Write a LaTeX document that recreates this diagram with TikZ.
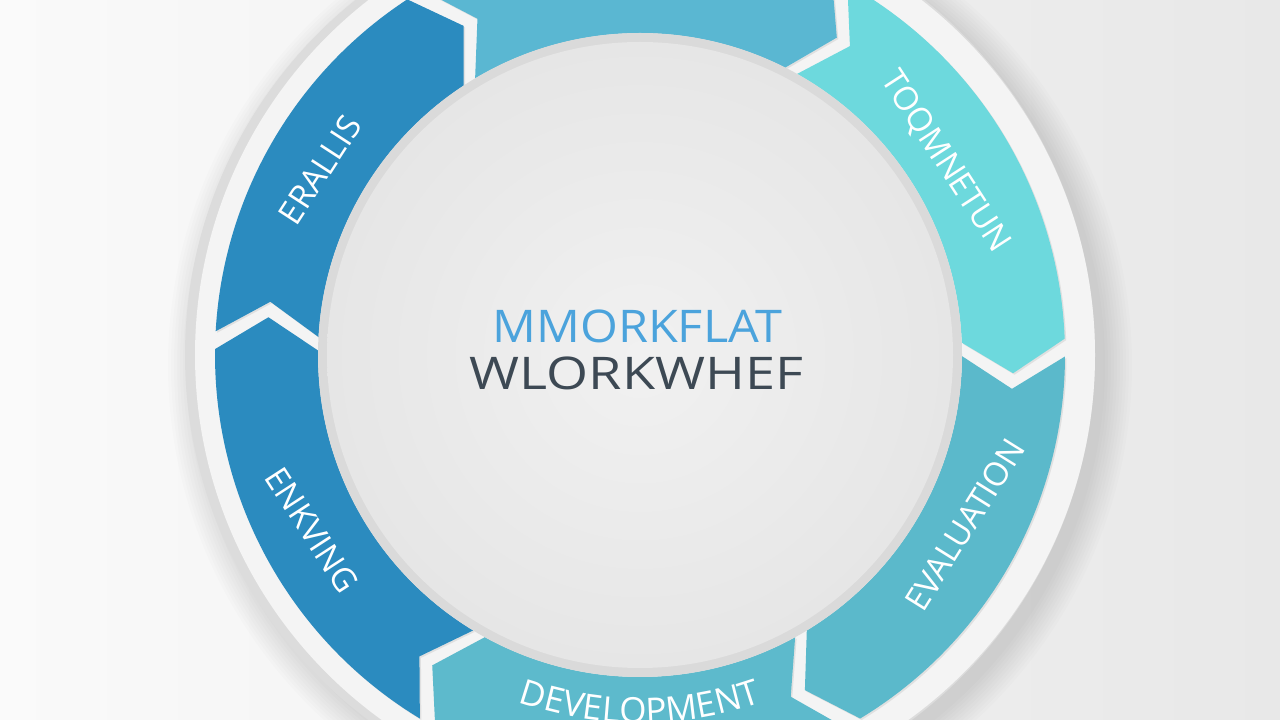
\documentclass[tikz,border=0pt]{standalone}
\usepackage{fontspec}
\setmainfont{Open Sans}
\usetikzlibrary{decorations.text}
\definecolor{bgL}{HTML}{FAFAFA}
\definecolor{bgR}{HTML}{E8E8E8}
\definecolor{rimC}{HTML}{DCDCDC}
\definecolor{discC}{HTML}{F4F4F4}
\definecolor{innerRim}{HTML}{DADADA}
\definecolor{innerC}{HTML}{F1F1F1}
\definecolor{innerE}{HTML}{E6E6E6}
\definecolor{cBlue}{HTML}{2B8BBF}
\definecolor{cTop}{HTML}{5AB7D2}
\definecolor{cTurq}{HTML}{6DD9DD}
\definecolor{cEval}{HTML}{5BB9CB}
\definecolor{cDev}{HTML}{5DBACC}
\definecolor{tBlue}{HTML}{4BA3DC}
\definecolor{tDark}{HTML}{3D4954}
\def\sgap{1.2}
\def\sdep{5}
\def\sRo{425}
\def\sRi{322}
\def\sRm{373.5}
\newcommand\ringseg[3]{%
  \fill[black,opacity=0.08,shift={(1.5,-1.5)}] ({#1-\sgap}:\sRo) arc[start angle={#1-\sgap}, end angle={#2+\sgap}, radius=\sRo] -- ({#2+\sgap-\sdep}:\sRm) -- ({#2+\sgap}:\sRi) arc[start angle={#2+\sgap}, end angle={#1-\sgap}, radius=\sRi] -- ({#1-\sgap-\sdep}:\sRm) -- cycle;
  \fill[#3] ({#1-\sgap}:\sRo) arc[start angle={#1-\sgap}, end angle={#2+\sgap}, radius=\sRo] -- ({#2+\sgap-\sdep}:\sRm) -- ({#2+\sgap}:\sRi) arc[start angle={#2+\sgap}, end angle={#1-\sgap}, radius=\sRi] -- ({#1-\sgap-\sdep}:\sRm) -- cycle;}
\tikzset{
  lbl/.style={font=\fontsize{33}{33}\selectfont, text=white, inner sep=0pt},
  title/.style={font=\fontsize{45}{45}\selectfont, inner sep=0pt, anchor=base}
}
\begin{document}
\begin{tikzpicture}[x=1pt,y=1pt]
\useasboundingbox (0,0) rectangle (1280,720);
\clip (0,0) rectangle (1280,720);
\shade[left color=bgL, right color=bgR] (0,0) rectangle (1280,720);
\begin{scope}[shift={(640,365)}]
  \foreach \i in {1,...,10} \fill[black,opacity=0.012] (10,-10) circle ({452+\i*3});
  \fill[rimC] (0,0) circle (455);
  \fill[discC] (5,0) circle (450);
  \ringseg{122}{62}{cTop}
  \ringseg{62}{1}{cTurq}
  \ringseg{1}{-60}{cEval}
  \ringseg{-60}{-120}{cDev}
  \ringseg{-120}{-182}{cBlue}
  \ringseg{178}{122}{cBlue}
  \fill[innerRim] (0,0) circle (322);
  \shade[inner color=innerC, outer color=innerE] (0,0) circle (313);
  \path[postaction={decorate}, decoration={text along path, text align=center, text color=white, text={|\fontsize{35}{35}\selectfont|DEVELOPMENT}}] (-115:368) arc[start angle=-115, end angle=-65, radius=368];
\end{scope}
\node[lbl, rotate=57] (eralls) at (320,550) {ERALLIS};
\node[lbl, rotate=-57] (toq) at (945,558) {TOQMNETUN};
\node[lbl, rotate=-57] (enk) at (312,190) {ENKVING};
\node[lbl, rotate=58] (eval) at (965,195) {EVALUATION};
\node[title, text=tBlue] (t1) at (637.5,377) {\scalebox{1.08}[1]{MMORKFLAT}};
\node[title, text=tDark] (t2) at (636.5,330) {\scalebox{1.2}[1]{WLORKWHEF}};
\end{tikzpicture}
\end{document}
